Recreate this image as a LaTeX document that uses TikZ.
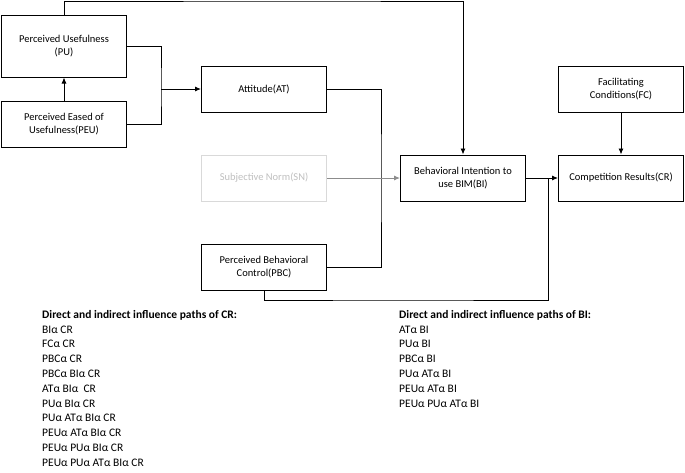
\documentclass[tikz,border=0pt]{standalone}
\usepackage{fontspec}
\setmainfont{Carlito}
\usetikzlibrary{arrows.meta}
\begin{document}
\begin{tikzpicture}[x=1pt,y=-1pt,
  box/.style={draw,line width=1pt,minimum width=125pt,minimum height=46pt,align=center,font=\fontsize{10.5}{13}\selectfont,inner sep=2pt},
  con/.style={line width=0.9pt},
  arr/.style={con,-{Latex[length=6pt,width=5pt]}},
  lst/.style={anchor=north west,align=left,font=\fontsize{11.5}{14.8}\selectfont,inner sep=0pt}]
\useasboundingbox (0,0) rectangle (685,472);
\node[box,minimum height=62pt] (PU) at (64,46) {Perceived Usefulness\\(PU)};
\node[box] (PEU) at (64,124) {Perceived Eased of\\Usefulness(PEU)};
\node[box] (AT) at (264,89) {Attitude(AT)};
\node[box,draw=black!15,text=black!25] (SN) at (264,178) {Subjective Norm(SN)};
\node[box] (PBC) at (264,267) {Perceived Behavioral\\Control(PBC)};
\node[box] (BI) at (463,178) {Behavioral Intention to\\use BIM(BI)};
\node[box] (FC) at (621,89) {Facilitating\\Conditions(FC)};
\node[box] (CR) at (621,178) {Competition Results(CR)};
\coordinate (j1) at (161,89);
\coordinate (j2) at (548,178);
\draw[arr] (PEU) -- (PU);
\draw[con] (PU.east) -| (j1) |- (PEU.east);
\draw[arr] (j1) -- (AT.west);
\draw[arr] (PU.north) |- (300,1) -| (BI.north);
\draw[con] (AT.east) -| (381,178) |- (PBC.east);
\draw[arr,draw=black!45] (SN.east) -- (BI.west);
\draw[arr] (BI.east) -- (CR.west);
\draw[con] (PBC.south) |- (400,300) -| (j2);
\draw[arr] (FC) -- (CR);
\node[lst] (L1) at (42,310) {\textbf{Direct and indirect influence paths of CR:}\\
BIα CR\\ FCα CR\\ PBCα CR\\ PBCα BIα CR\\ ATα BIα \ CR\\ PUα BIα CR\\ PUα ATα BIα CR\\ PEUα ATα BIα CR\\ PEUα PUα BIα CR\\ PEUα PUα ATα BIα CR};
\node[lst] (L2) at (399,310) {\textbf{Direct and indirect influence paths of BI:}\\
ATα BI\\ PUα BI\\ PBCα BI\\ PUα ATα BI\\ PEUα ATα BI\\ PEUα PUα ATα BI};
\end{tikzpicture}
\end{document}
